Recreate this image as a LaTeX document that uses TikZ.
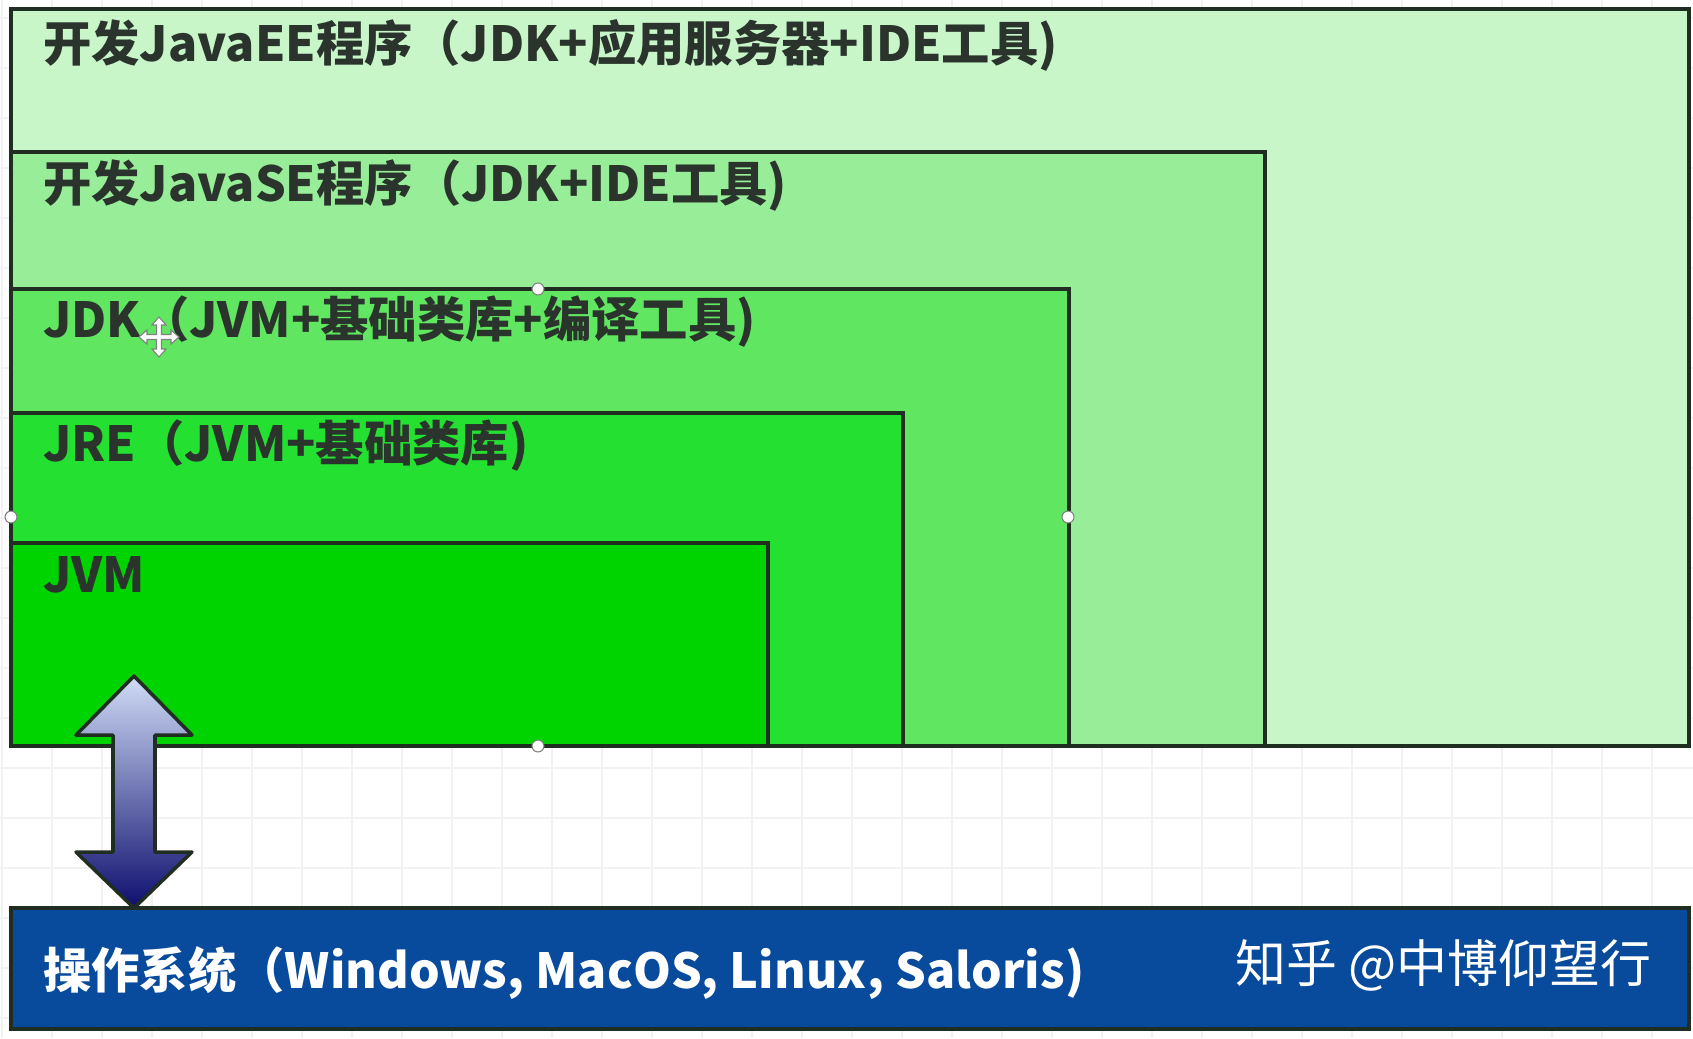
\documentclass[tikz,border=0pt]{standalone}
\usepackage{fontspec}
\usepackage{tikz}
\newfontfamily\cjk{Noto Sans CJK SC}

\definecolor{eegreen}{RGB}{200,246,200}
\definecolor{segreen}{RGB}{152,238,152}
\definecolor{jdkgreen}{RGB}{96,230,96}
\definecolor{jregreen}{RGB}{36,224,48}
\definecolor{jvmgreen}{RGB}{0,212,0}
\definecolor{boxline}{RGB}{32,46,34}
\definecolor{boxtextcol}{RGB}{42,52,44}
\definecolor{osblue}{RGB}{8,74,156}
\definecolor{gridcol}{RGB}{242,242,242}

\begin{document}
\begin{tikzpicture}[x=0.02cm, y=-0.02cm,
    box/.style={draw=boxline, line width=2.4pt},
    boxtext/.style={anchor=west, inner sep=0pt, text=boxtextcol,
      font=\cjk\bfseries\fontsize{27.5pt}{32pt}\selectfont},
    handle/.style={draw=gray, fill=white, line width=0.6pt}]
    \useasboundingbox (0, 0) rectangle (1693, 1038);
    \fill [white] (0, 0) rectangle (1693, 1038);

    % grid of the slide
    \foreach \x in {2, 52, ..., 1692}
      \draw [gridcol, line width=0.8pt] (\x, 0) -- (\x, 1038);
    \foreach \y in {18, 68, ..., 1018}
      \draw [gridcol, line width=0.8pt] (0, \y) -- (1693, \y);

    % nested boxes
    \draw [box, fill=eegreen] (11, 9) rectangle (1689, 746);
    \draw [box, fill=segreen] (11, 152) rectangle (1265, 746);
    \draw [box, fill=jdkgreen] (11, 289) rectangle (1069, 746);
    \draw [box, fill=jregreen] (11, 413) rectangle (903, 746);
    \draw [box, fill=jvmgreen] (11, 543) rectangle (768, 746);

    \node [boxtext] (ee) at (43, 45) {开发JavaEE程序（JDK+应用服务器+IDE工具)};
    \node [boxtext] (se) at (43, 186) {开发JavaSE程序（JDK+IDE工具)};
    \node [boxtext] (jdk) at (43, 322) {JDK（JVM+基础类库+编译工具)};
    \node [boxtext] (jre) at (43, 446) {JRE（JVM+基础类库)};
    \node [boxtext] (jvm) at (43, 575) {JVM};

    % operating system
    \draw [box, fill=osblue] (11, 908) rectangle (1689, 1029);
    \node [boxtext, text=white] (os) at (43, 973)
      {操作系统（Windows, MacOS, Linux, Saloris)};
    \node [anchor=west, inner sep=0pt, text=white,
      font=\cjk\fontsize{29pt}{34pt}\selectfont] (mark) at (1235, 965)
      {知乎 @中博仰望行};

    % arrow between JVM and the system
    \coordinate (up) at (134, 676);
    \coordinate (down) at (134, 908);
    \draw [draw=boxline, line width=2pt, line join=round,
      top color={rgb,255:red,208;green,220;blue,246},
      bottom color={rgb,255:red,14;green,14;blue,110}]
      (up) -- ++(58, 59) -- ++(-37, 0) -- ++(0, 117) -- ++(37, 0)
      -- (down) -- ++(-58, -56) -- ++(37, 0) -- ++(0, -117)
      -- ++(-37, 0) -- cycle;

    % selection handles of the JDK box
    \draw [handle] (538, 289) circle (3.4pt);
    \draw [handle] (11, 517) circle (3.4pt);
    \draw [handle] (1068, 517) circle (3.4pt);
    \draw [handle] (538, 746) circle (3.4pt);

    % move cursor
    \draw [draw=gray, fill=white, line width=0.6pt, shift={(159, 337)}]
      (0, -20) -- (7, -12) -- (2.5, -12) -- (2.5, -2.5) -- (12, -2.5)
      -- (12, -7) -- (20, 0) -- (12, 7) -- (12, 2.5) -- (2.5, 2.5)
      -- (2.5, 12) -- (7, 12) -- (0, 20) -- (-7, 12) -- (-2.5, 12)
      -- (-2.5, 2.5) -- (-12, 2.5) -- (-12, 7) -- (-20, 0) -- (-12, -7)
      -- (-12, -2.5) -- (-2.5, -2.5) -- (-2.5, -12) -- (-7, -12) -- cycle;

  \end{tikzpicture}
\end{document}
